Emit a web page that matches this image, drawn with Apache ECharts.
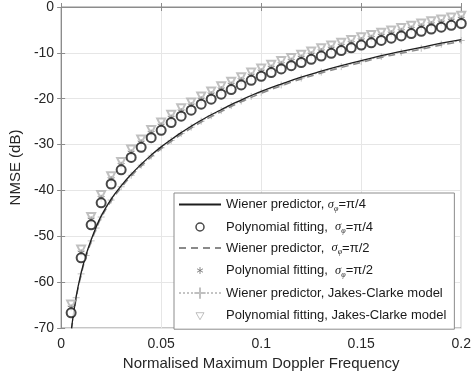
<!DOCTYPE html>
<html>
<head>
<meta charset="utf-8">
<script src="https://cdn.jsdelivr.net/npm/echarts@6/dist/echarts.min.js"></script>
<style>
  html, body { margin: 0; padding: 0; background: #fff; }
  #chart { width: 474px; height: 377px; }
</style>
</head>
<body>
<div id="chart"></div>
<script>
// x positions (normalised max Doppler frequency)
var markerX = [0.005, 0.01, 0.015, 0.02, 0.025, 0.03, 0.035, 0.04, 0.045, 0.05,
  0.055, 0.06, 0.065, 0.07, 0.075, 0.08, 0.085, 0.09, 0.095, 0.1,
  0.105, 0.11, 0.115, 0.12, 0.125, 0.13, 0.135, 0.14, 0.145, 0.15,
  0.155, 0.16, 0.165, 0.17, 0.175, 0.18, 0.185, 0.19, 0.195, 0.2]
var lineX = [0.0052, 0.0075, 0.01, 0.0125, 0.015, 0.0175, 0.02, 0.025, 0.03, 0.035,
  0.04, 0.045, 0.05, 0.055, 0.06, 0.065, 0.07, 0.075, 0.08, 0.085,
  0.09, 0.095, 0.1, 0.11, 0.12, 0.13, 0.14, 0.15, 0.16, 0.17,
  0.18, 0.19, 0.2]

// NMSE (dB)
var wienerPi4 = [-70.0, -63.2, -58.0, -54.0, -50.8, -48.0, -45.6, -41.9, -39.0, -36.5,
  -34.3, -32.3, -30.5, -28.9, -27.4, -26.0, -24.7, -23.5, -22.4, -21.3,
  -20.3, -19.3, -18.4, -16.8, -15.3, -14.0, -12.8, -11.7, -10.6, -9.7,
  -8.8, -7.9, -7.1]
var wienerPi2 = [-70.4, -63.6, -58.4, -54.4, -51.2, -48.4, -46.0, -42.3, -39.4, -36.9,
  -34.7, -32.7, -30.9, -29.3, -27.8, -26.4, -25.1, -23.9, -22.8, -21.7,
  -20.7, -19.7, -18.8, -17.2, -15.7, -14.4, -13.2, -12.1, -11.0, -10.1,
  -9.2, -8.3, -7.5]
var wienerJakes = [-70.2, -63.4, -58.2, -54.2, -51.0, -48.2, -45.8, -42.1, -39.2, -36.7,
  -34.5, -32.5, -30.7, -29.1, -27.6, -26.2, -24.9, -23.7, -22.6, -21.5,
  -20.5, -19.5, -18.6, -17.0, -15.5, -14.2, -13.0, -11.9, -10.8, -9.9,
  -9.0, -8.1, -7.3]
var polyPi4 = [-66.7, -54.7, -47.5, -42.7, -38.6, -35.5, -32.8, -30.6, -28.5, -26.9,
  -25.2, -23.8, -22.5, -21.2, -20.1, -19.0, -18.0, -17.0, -16.0, -15.1,
  -14.3, -13.5, -12.8, -12.1, -11.4, -10.7, -10.1, -9.5, -8.9, -8.3,
  -7.8, -7.3, -6.8, -6.3, -5.8, -5.3, -4.8, -4.4, -4.0, -3.6]
var polyPi2 = [-65.6, -53.6, -46.4, -41.7, -37.6, -34.5, -31.8, -29.6, -27.5, -25.9,
  -24.2, -22.8, -21.5, -20.2, -19.1, -18.0, -17.0, -16.0, -15.0, -14.1,
  -13.3, -12.5, -11.8, -11.1, -10.4, -9.7, -9.1, -8.5, -7.9, -7.3,
  -6.8, -6.3, -5.8, -5.3, -4.8, -4.3, -3.8, -3.4, -3.0, -2.6]
var polyJakes = [-64.9, -52.9, -45.8, -41.0, -36.9, -33.8, -31.1, -28.9, -26.8, -25.2,
  -23.5, -22.1, -20.8, -19.5, -18.4, -17.3, -16.3, -15.3, -14.3, -13.4,
  -12.6, -11.8, -11.1, -10.4, -9.7, -9.0, -8.4, -7.8, -7.2, -6.6,
  -6.1, -5.6, -5.1, -4.6, -4.1, -3.6, -3.1, -2.7, -2.3, -1.9]

var xTicks = ['0', '0.05', '0.1', '0.15', '0.2']

var names = [
  'Wiener predictor, π/4',
  'Polynomial fitting, π/4',
  'Wiener predictor, π/2',
  'Polynomial fitting, π/2',
  'Wiener predictor, Jakes-Clarke model',
  'Polynomial fitting, Jakes-Clarke model'
]
var legendText = [
  'Wiener predictor, {s|σ}{sub|φ}{n|=π/4}',
  'Polynomial fitting,  {s|σ}{sub|φ}{n|=π/4}',
  'Wiener predictor,  {s|σ}{sub|φ}{n|=π/2}',
  'Polynomial fitting,  {s|σ}{sub|φ}{n|=π/2}',
  'Wiener predictor, Jakes-Clarke model',
  'Polynomial fitting, Jakes-Clarke model'
]

var FONT = 'Liberation Sans, Arial, sans-serif'
var STAR = 'path://M0,-5L0,5M-4.3,-2.5L4.3,2.5M-4.3,2.5L4.3,-2.5'
var PLUS = 'path://M0,-5L0,5M-5,0L5,0'
// legend icons: invisible corner moves keep the drawn mark small inside the 14px box
var ICON_CIRCLE = 'path://M-7,-7M7,7M-4,0A4,4 0 1,0 4,0A4,4 0 1,0 -4,0Z'
var ICON_STAR = 'path://M-7,-7M7,7M0,-3.5L0,3.5M-3,-1.75L3,1.75M-3,1.75L3,-1.75'
var ICON_TRI = 'path://M-7,-7M7,7M-4,-3L4,-3L0,4Z'

function pairs(xs, ys) {
  return ys.map(function(v, i) { return [xs[i], v] })
}

var chart = echarts.init(document.getElementById('chart'))
chart.setOption({
  backgroundColor: '#fff',
  animation: false,
  textStyle: { fontFamily: FONT },
  grid: {
    left: 49,
    right: 12,
    top: 6,
    bottom: 49,
    show: true,
    borderColor: '#8c8c8c',
    borderWidth: 1
  },
  legend: {
    orient: 'vertical',
    left: 174,
    top: 193,
    padding: [5, 8, 4, 4],
    itemGap: 5,
    itemWidth: 42,
    itemHeight: 14,
    symbolKeepAspect: true,
    backgroundColor: '#fff',
    borderColor: '#8c8c8c',
    borderWidth: 1,
    data: [
      { name: names[0], itemStyle: { opacity: 0 } },
      { name: names[1], icon: ICON_CIRCLE, itemStyle: { color: 'none', borderColor: '#1a1a1a', borderWidth: 1.5 } },
      { name: names[2], itemStyle: { opacity: 0 } },
      { name: names[3], icon: ICON_STAR, itemStyle: { color: 'none', borderColor: '#707070', borderWidth: 1 } },
      names[4],
      { name: names[5], icon: ICON_TRI, itemStyle: { color: 'none', borderColor: '#b0b0b0', borderWidth: 1 } }
    ],
    formatter: function(name) {
      return legendText[names.indexOf(name)]
    },
    textStyle: {
      fontFamily: FONT,
      fontSize: 13,
      color: '#1a1a1a',
      rich: {
        s: { fontFamily: 'Liberation Serif, serif', fontStyle: 'italic', fontSize: 12.5, color: '#1a1a1a' },
        sub: { fontFamily: 'Liberation Serif, serif', fontStyle: 'italic', fontSize: 8, color: '#1a1a1a', padding: [8, 0, 0, 0] },
        n: { fontFamily: FONT, fontSize: 13, color: '#1a1a1a' }
      }
    }
  },
  xAxis: [{
    type: 'value',
    min: 0,
    max: 0.2,
    interval: 0.05,
    name: 'Normalised Maximum Doppler Frequency',
    nameLocation: 'middle',
    nameGap: 28,
    nameTextStyle: { fontSize: 15, color: '#262626', fontFamily: FONT },
    axisLine: { lineStyle: { color: '#8c8c8c' } },
    axisTick: { inside: true, length: 4, lineStyle: { color: '#8c8c8c' } },
    axisLabel: {
      fontSize: 14,
      color: '#262626',
      margin: 9,
      formatter: function(v) { return xTicks[Math.round(v / 0.05)] }
    },
    splitLine: { show: true, lineStyle: { color: '#e6e6e6' } }
  }, {
    type: 'value',
    position: 'top',
    min: 0,
    max: 0.2,
    interval: 0.05,
    axisLine: { show: true, lineStyle: { color: '#8c8c8c' } },
    axisTick: { inside: true, length: 4, lineStyle: { color: '#8c8c8c' } },
    axisLabel: { show: false },
    splitLine: { show: false }
  }],
  yAxis: [{
    type: 'value',
    min: -70,
    max: 0,
    interval: 10,
    name: 'NMSE (dB)',
    nameLocation: 'middle',
    nameGap: 31,
    nameTextStyle: { fontSize: 15, color: '#262626', fontFamily: FONT },
    axisLine: { lineStyle: { color: '#8c8c8c' } },
    axisTick: { inside: true, length: 4, lineStyle: { color: '#8c8c8c' } },
    axisLabel: { fontSize: 14, color: '#262626', margin: 7 },
    splitLine: { show: true, lineStyle: { color: '#e6e6e6' } }
  }, {
    type: 'value',
    position: 'right',
    min: -70,
    max: 0,
    interval: 10,
    axisLine: { show: true, lineStyle: { color: '#8c8c8c' } },
    axisTick: { inside: true, length: 4, lineStyle: { color: '#8c8c8c' } },
    axisLabel: { show: false },
    splitLine: { show: false }
  }],
  series: [
    {
      name: names[0],
      type: 'line',
      data: pairs(lineX, wienerPi4),
      smooth: true,
      showSymbol: false,
      symbol: 'none',
      z: 4,
      lineStyle: { color: '#1e1e1e', width: 1.3 },
      itemStyle: { color: '#1e1e1e' }
    },
    {
      name: names[1],
      type: 'scatter',
      data: pairs(markerX, polyPi4),
      symbol: 'emptyCircle',
      symbolSize: 9,
      z: 7,
      itemStyle: { color: '#1a1a1a', borderWidth: 1.6 }
    },
    {
      name: names[2],
      type: 'line',
      data: pairs(lineX, wienerPi2),
      smooth: true,
      showSymbol: false,
      symbol: 'none',
      z: 3,
      lineStyle: { color: '#8a8a8a', width: 1.5, type: [7, 5] },
      itemStyle: { color: '#8a8a8a' }
    },
    {
      name: names[3],
      type: 'scatter',
      data: pairs(markerX, polyPi2),
      symbol: STAR,
      symbolSize: 7,
      z: 6,
      itemStyle: { color: 'none', borderColor: '#707070', borderWidth: 1 }
    },
    {
      name: names[4],
      type: 'line',
      data: pairs(lineX, wienerJakes),
      smooth: true,
      symbol: PLUS,
      symbolSize: 7,
      showSymbol: true,
      z: 2,
      lineStyle: { color: '#c4c4c4', width: 1.2, type: [2, 2] },
      itemStyle: { color: 'none', borderColor: '#c0c0c0', borderWidth: 1 }
    },
    {
      name: names[5],
      type: 'scatter',
      data: pairs(markerX, polyJakes),
      symbol: 'emptyTriangle',
      symbolRotate: 180,
      symbolSize: 8,
      z: 5,
      itemStyle: { color: '#b0b0b0', borderWidth: 1 }
    }
  ]
})
</script>
</body>
</html>
